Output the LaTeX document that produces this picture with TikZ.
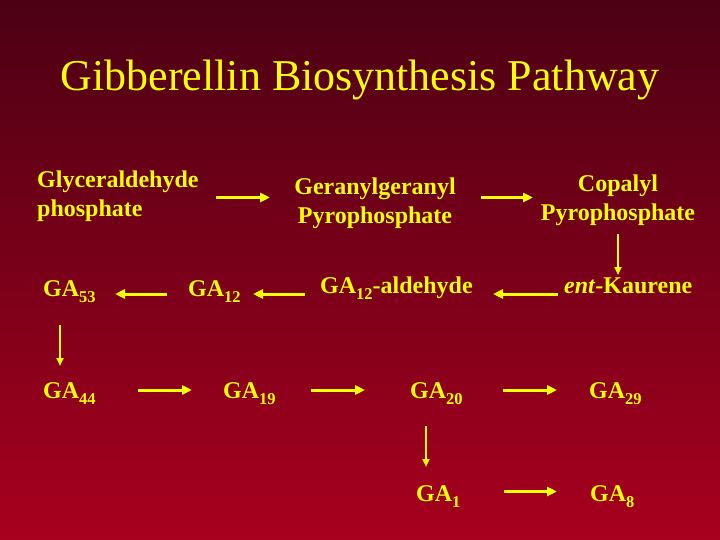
\documentclass[tikz,border=0pt]{standalone}
\usepackage{fontspec}
\setmainfont{Liberation Serif}
\usetikzlibrary{arrows.meta}
\definecolor{bgtop}{RGB}{76,0,20}
\definecolor{bgbot}{RGB}{168,0,30}
\definecolor{gay}{RGB}{255,255,0}
\newcommand{\sbs}[1]{\raisebox{-6pt}{\fontsize{16.5}{16.5}\selectfont #1}}
\tikzset{
  lbl/.style={text=gay, font=\bfseries\fontsize{24}{28.5}\selectfont, inner sep=0pt},
  harr/.style={draw=gay, line width=3pt, -{Triangle[length=10pt,width=9pt]}},
  varr/.style={draw=gay, line width=2pt, -{Triangle[length=8pt,width=7pt]}},
}
\begin{document}
\begin{tikzpicture}[x=1pt,y=1pt]
\shade[top color=bgtop, bottom color=bgbot] (0,0) rectangle (720,-540);
\useasboundingbox (0,0) rectangle (720,-540);
\node[text=gay, font=\fontsize{44}{50}\selectfont, inner sep=0pt, anchor=base] (title) at (360,-91) {Gibberellin Biosynthesis Pathway};
% row 1 (base anchor = baseline of the last line)
\node[lbl, anchor=base west, align=left] (gly) at (37,-216) {Glyceraldehyde\\phosphate};
\node[lbl, anchor=base, align=center] (ger) at (375,-223) {Geranylgeranyl\\Pyrophosphate};
\node[lbl, anchor=base, align=center] (cop) at (618,-220.5) {Copalyl\\Pyrophosphate};
% row 2
\node[lbl, anchor=base west] (ent) at (564,-293) {\textit{ent}-Kaurene};
\node[lbl, anchor=base west] (ald) at (320,-293) {GA\sbs{12}-aldehyde};
\node[lbl, anchor=base west] (ga12) at (188,-296) {GA\sbs{12}};
\node[lbl, anchor=base west] (ga53) at (43,-296) {GA\sbs{53}};
% row 3
\node[lbl, anchor=base west] (ga44) at (43,-398) {GA\sbs{44}};
\node[lbl, anchor=base west] (ga19) at (223,-398) {GA\sbs{19}};
\node[lbl, anchor=base west] (ga20) at (410,-398) {GA\sbs{20}};
\node[lbl, anchor=base west] (ga29) at (589,-398) {GA\sbs{29}};
% row 4
\node[lbl, anchor=base west] (ga1) at (416,-501) {GA\sbs{1}};
\node[lbl, anchor=base west] (ga8) at (590,-501) {GA\sbs{8}};
% arrow end points
\coordinate (a1s) at (216,-197.5); \coordinate (a1e) at (270,-197.5);
\coordinate (a2s) at (481,-197.5); \coordinate (a2e) at (533,-197.5);
\coordinate (v1s) at (618,-234);   \coordinate (v1e) at (618,-275);
\coordinate (a3s) at (558,-294);   \coordinate (a3e) at (493,-294);
\coordinate (a4s) at (305,-294);   \coordinate (a4e) at (253,-294);
\coordinate (a5s) at (167,-294);   \coordinate (a5e) at (115,-294);
\coordinate (v2s) at (60,-325);    \coordinate (v2e) at (60,-366);
\coordinate (a6s) at (138,-390);   \coordinate (a6e) at (192,-390);
\coordinate (a7s) at (311,-390);   \coordinate (a7e) at (365,-390);
\coordinate (a8s) at (503,-390);   \coordinate (a8e) at (557,-390);
\coordinate (v3s) at (426,-426);   \coordinate (v3e) at (426,-467);
\coordinate (a9s) at (504,-491.5); \coordinate (a9e) at (557,-491.5);
\draw[harr] (a1s) -- (a1e);
\draw[harr] (a2s) -- (a2e);
\draw[varr] (v1s) -- (v1e);
\draw[harr] (a3s) -- (a3e);
\draw[harr] (a4s) -- (a4e);
\draw[harr] (a5s) -- (a5e);
\draw[varr] (v2s) -- (v2e);
\draw[harr] (a6s) -- (a6e);
\draw[harr] (a7s) -- (a7e);
\draw[harr] (a8s) -- (a8e);
\draw[varr] (v3s) -- (v3e);
\draw[harr] (a9s) -- (a9e);
\end{tikzpicture}
\end{document}
